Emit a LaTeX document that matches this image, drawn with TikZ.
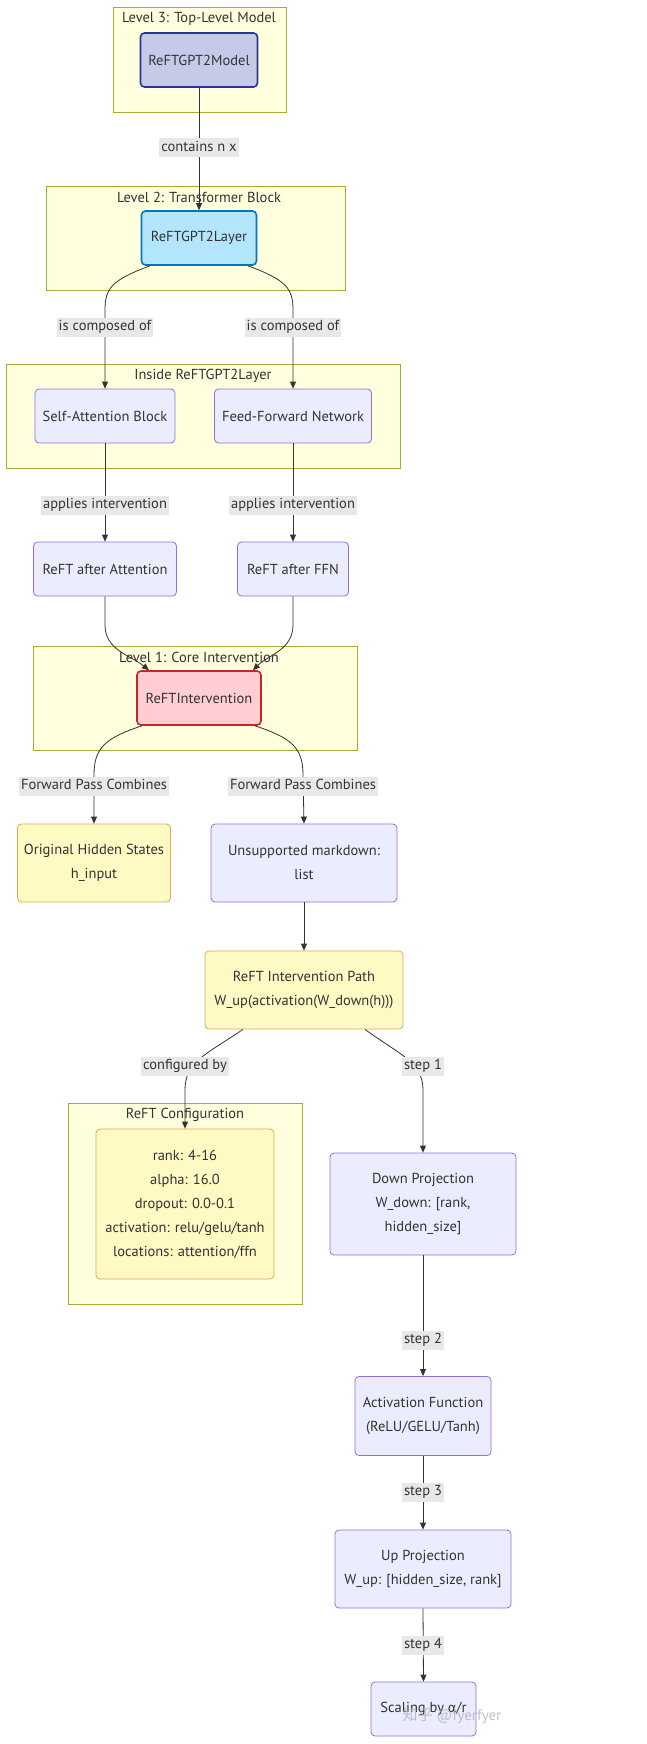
\documentclass[tikz,border=0pt]{standalone}
\usepackage{fontspec}
\setmainfont{PT Sans}
\newfontfamily\cjkf{Noto Sans CJK SC}
\newfontfamily\grk{DejaVu Sans}
\usetikzlibrary{arrows.meta}
\definecolor{clf}{HTML}{FFFFDE}\definecolor{cls}{HTML}{AAAA33}
\definecolor{dff}{HTML}{ECECFF}\definecolor{dfs}{HTML}{9370DB}
\definecolor{mf}{HTML}{C5CAE9}\definecolor{ms}{HTML}{283593}
\definecolor{lf}{HTML}{B3E5FC}\definecolor{ls}{HTML}{0277BD}
\definecolor{rf}{HTML}{FFCDD2}\definecolor{rs}{HTML}{C62828}
\definecolor{yf}{HTML}{FFF9C4}\definecolor{ys}{HTML}{E0A850}
\definecolor{lb}{HTML}{E8E8E8}\definecolor{tx}{HTML}{333333}
\begin{document}
\begin{tikzpicture}[x=1pt,y=-1pt,
 every node/.style={font=\fontsize{14.5}{24}\selectfont,text=tx,align=center},
 cl/.style={draw=cls,fill=clf,line width=0.8pt},
 ct/.style={font=\fontsize{14.5}{16}\selectfont},
 nd/.style={draw=dfs,fill=dff,rounded corners=4pt,line width=0.8pt,inner sep=0pt},
 yn/.style={nd,draw=ys,fill=yf},
 lbl/.style={fill=lb,inner sep=2pt,text height=11pt,text depth=4pt},
 arr/.style={draw=tx,line width=0.8pt,-{Triangle[length=7pt,width=6pt]}}]
\useasboundingbox (0,0) rectangle (647,1744);
\fill[white] (0,0) rectangle (647,1744);
% clusters
\draw[cl] (113,7) rectangle (286,112); \node[ct] (c3) at (199,19) {Level 3: Top-Level Model};
\draw[cl] (46,186) rectangle (345,290); \node[ct] (c2) at (199,197) {Level 2: Transformer Block};
\draw[cl] (6,364) rectangle (400,468); \node[ct] (ci) at (203,376) {Inside ReFTGPT2Layer};
\draw[cl] (33,646) rectangle (357,750);
\draw[cl] (68,1103) rectangle (302,1304); \node[ct] (cc) at (185,1115) {ReFT Configuration};
% nodes
\node[nd,draw=ms,fill=mf,line width=1.6pt,minimum width=117pt,minimum height=54pt] (model) at (199,60) {ReFTGPT2Model};
\node[nd,draw=ls,fill=lf,line width=1.6pt,minimum width=115pt,minimum height=54pt] (layer) at (199,238) {ReFTGPT2Layer};
\node[nd,minimum width=140pt,minimum height=54pt] (sa) at (105,416) {Self-Attention Block};
\node[nd,minimum width=157pt,minimum height=54pt] (ffn) at (293,416) {Feed-Forward Network};
\node[nd,minimum width=143pt,minimum height=54pt] (ra) at (105,569) {ReFT after Attention};
\node[nd,minimum width=111pt,minimum height=54pt] (rff) at (293,569) {ReFT after FFN};
\node[nd,draw=rs,fill=rf,line width=1.6pt,minimum width=124pt,minimum height=54pt] (ri) at (199,698) {ReFTIntervention};
\node[yn,minimum width=153pt,minimum height=78pt] (orig) at (94,863) {Original Hidden States\\h\_input};
\node[nd,minimum width=186pt,minimum height=78pt] (uns) at (304,863) {Unsupported markdown:\\list};
\node[yn,minimum width=198pt,minimum height=78pt] (path) at (304,990) {ReFT Intervention Path\\W\_up(activation(W\_down(h)))};
\node[yn,minimum width=178pt,minimum height=150pt] (cfg) at (185,1204) {rank: 4-16\\alpha: 16.0\\dropout: 0.0-0.1\\activation: relu/gelu/tanh\\locations: attention/ffn};
\node[nd,minimum width=186pt,minimum height=102pt] (down) at (423,1204) {Down Projection\\W\_down: [rank,\\hidden\_size]};
\node[nd,minimum width=136pt,minimum height=79pt] (act) at (423,1416) {Activation Function\\(ReLU/GELU/Tanh)};
\node[nd,minimum width=176pt,minimum height=78pt] (up) at (423,1569) {Up Projection\\W\_up: [hidden\_size, rank]};
\node[nd,minimum width=105pt,minimum height=54pt] (sc) at (423.5,1709) {Scaling by {\grk\fontsize{13}{16}\selectfont α}/r};
% edges
\draw[arr] (model.south) -- (layer.north);
\draw[arr] ([xshift=-49pt]layer.south) .. controls (112,280) and (105,288) .. (105,310) -- (sa.north);
\draw[arr] ([xshift=49pt]layer.south) .. controls (286,280) and (293,288) .. (293,310) -- (ffn.north);
\draw[arr] (sa.south) -- (ra.north);
\draw[arr] (ffn.south) -- (rff.north);
\draw[arr] (ra.south) -- (105,625) .. controls (105,650) and (130,655) .. ([xshift=-50pt]ri.north);
\draw[arr] (rff.south) -- (293,625) .. controls (293,650) and (268,655) .. ([xshift=54pt]ri.north);
\draw[arr] ([xshift=-57pt]ri.south) .. controls (105,738) and (94,748) .. (94,775) -- (orig.north);
\draw[arr] ([xshift=56pt]ri.south) .. controls (292,738) and (303,748) .. (303,775) -- (uns.north);
\draw[arr] (uns.south) -- (path.north);
\draw[arr] ([xshift=-61pt]path.south) .. controls (205,1055) and (185,1062) .. (185,1090) -- (cfg.north);
\draw[arr] ([xshift=61pt]path.south) .. controls (400,1055) and (423,1062) .. (423,1090) -- (down.north);
\draw[arr] (down.south) -- (act.north);
\draw[arr] (act.south) -- (up.north);
\draw[arr] (up.south) -- (sc.north);
% cluster title drawn over edges
\node[ct] (c1) at (199,657) {Level 1: Core Intervention};
% labels
\node[lbl] (l1) at (199,148) {contains n x};
\node[lbl] (l2) at (105,327) {is composed of};
\node[lbl] (l3) at (293,327) {is composed of};
\node[lbl] (l4) at (105,505) {applies intervention};
\node[lbl] (l5) at (293,505) {applies intervention};
\node[lbl] (l6) at (94,786) {Forward Pass Combines};
\node[lbl] (l7) at (303,786) {Forward Pass Combines};
\node[lbl] (l8) at (185,1066) {configured by};
\node[lbl] (l9) at (423,1066) {step 1};
\node[lbl] (l10) at (423,1340) {step 2};
\node[lbl] (l11) at (423,1492) {step 3};
\node[lbl] (l12) at (423,1645) {step 4};
\node[text=gray!60,opacity=0.8,font=\fontsize{15}{18}\selectfont] (wm) at (452,1716) {{\cjkf 知乎} @fyerfyer};
\end{tikzpicture}
\end{document}
